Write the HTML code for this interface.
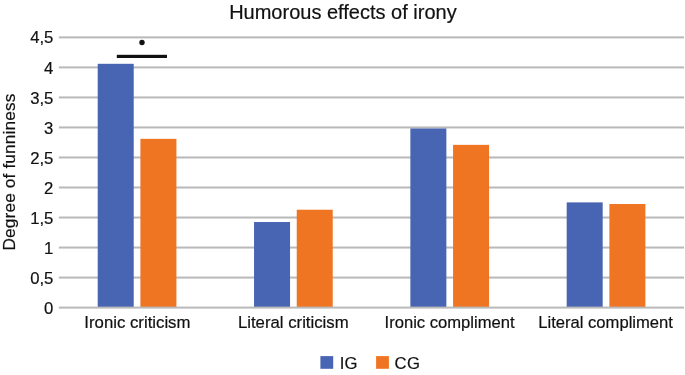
<!DOCTYPE html>
<html><head><meta charset="utf-8"><title>Humorous effects of irony</title>
<style>html,body{margin:0;padding:0;background:#fff}svg{display:block}</style></head>
<body>
<svg width="685" height="375" viewBox="0 0 685 375" font-family="'Liberation Sans', sans-serif" fill="#111" stroke="#111" stroke-width="0.2">
<rect stroke="none" width="685" height="375" fill="#fff"/>
<text x="53.4" y="313.70" font-size="16.7" text-anchor="end">0</text>
<rect stroke="none" x="58.9" y="276.58" width="625.10" height="2" fill="#b9b9b9"/>
<text x="53.4" y="283.68" font-size="16.7" text-anchor="end">0,5</text>
<rect stroke="none" x="58.9" y="246.55" width="625.10" height="2" fill="#b9b9b9"/>
<text x="53.4" y="253.65" font-size="16.7" text-anchor="end">1</text>
<rect stroke="none" x="58.9" y="216.53" width="625.10" height="2" fill="#b9b9b9"/>
<text x="53.4" y="223.63" font-size="16.7" text-anchor="end">1,5</text>
<rect stroke="none" x="58.9" y="186.50" width="625.10" height="2" fill="#b9b9b9"/>
<text x="53.4" y="193.60" font-size="16.7" text-anchor="end">2</text>
<rect stroke="none" x="58.9" y="156.48" width="625.10" height="2" fill="#b9b9b9"/>
<text x="53.4" y="163.58" font-size="16.7" text-anchor="end">2,5</text>
<rect stroke="none" x="58.9" y="126.45" width="625.10" height="2" fill="#b9b9b9"/>
<text x="53.4" y="133.55" font-size="16.7" text-anchor="end">3</text>
<rect stroke="none" x="58.9" y="96.43" width="625.10" height="2" fill="#b9b9b9"/>
<text x="53.4" y="103.53" font-size="16.7" text-anchor="end">3,5</text>
<rect stroke="none" x="58.9" y="66.40" width="625.10" height="2" fill="#b9b9b9"/>
<text x="53.4" y="73.50" font-size="16.7" text-anchor="end">4</text>
<rect stroke="none" x="58.9" y="36.38" width="625.10" height="2" fill="#b9b9b9"/>
<text x="53.4" y="43.48" font-size="16.7" text-anchor="end">4,5</text>
<rect stroke="none" x="97.71" y="63.80" width="36" height="243.80" fill="#4865b3"/>
<rect stroke="none" x="140.41" y="138.86" width="36" height="168.74" fill="#f07522"/>
<text x="137.40" y="328.3" font-size="16.75" text-anchor="middle">Ironic criticism</text>
<rect stroke="none" x="254.04" y="222.03" width="36" height="85.57" fill="#4865b3"/>
<rect stroke="none" x="296.74" y="209.72" width="36" height="97.88" fill="#f07522"/>
<text x="293.30" y="328.3" font-size="16.75" text-anchor="middle">Literal criticism</text>
<rect stroke="none" x="410.36" y="128.47" width="36" height="179.13" fill="#4865b3"/>
<rect stroke="none" x="453.06" y="144.86" width="36" height="162.74" fill="#f07522"/>
<text x="449.60" y="328.3" font-size="16.6" text-anchor="middle">Ironic compliment</text>
<rect stroke="none" x="566.69" y="202.39" width="36" height="105.21" fill="#4865b3"/>
<rect stroke="none" x="609.39" y="204.01" width="36" height="103.59" fill="#f07522"/>
<text x="605.60" y="328.3" font-size="16.6" text-anchor="middle">Literal compliment</text>
<rect stroke="none" x="58.9" y="306.60" width="625.10" height="2" fill="#b9b9b9"/>
<text x="342.9" y="18.8" font-size="20" text-anchor="middle">Humorous effects of irony</text>
<text transform="translate(15.0,172.0) rotate(-90)" font-size="17.2" letter-spacing="0.17" text-anchor="middle">Degree of funniness</text>
<rect stroke="none" x="116.8" y="54.8" width="50.2" height="3.2" fill="#111"/>
<circle stroke="none" cx="142.0" cy="42.55" r="2.7" fill="#111"/>
<rect stroke="none" x="320.4" y="356.1" width="12.8" height="12.7" fill="#4865b3"/>
<text x="339.8" y="369.1" font-size="16.7">IG</text>
<rect stroke="none" x="376.1" y="356.1" width="12.8" height="12.7" fill="#f07522"/>
<text x="394.5" y="369.1" letter-spacing="0.5" font-size="16.7">CG</text>
</svg>
</body></html>
